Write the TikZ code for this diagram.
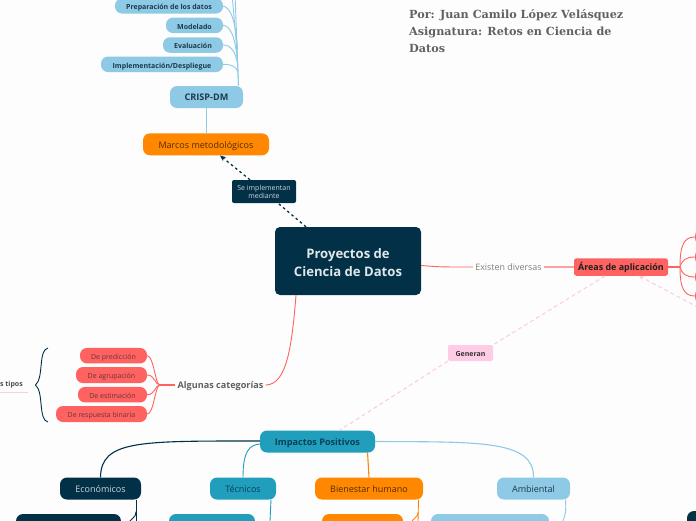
\documentclass[tikz,border=0pt]{standalone}
\usepackage{fontspec}
\setmainfont{Open Sans}
\newfontfamily\titlefont{DejaVu Serif}
\usepackage{xcolor}
\usetikzlibrary{arrows.meta,positioning}
\definecolor{navy}{HTML}{023047}
\definecolor{teal}{HTML}{219EBC}
\definecolor{sky}{HTML}{8ECAE6}
\definecolor{amber}{HTML}{FF8800}
\definecolor{coral}{HTML}{FF6361}
\definecolor{rose}{HTML}{FFCCE6}
\definecolor{paper}{HTML}{FDFDFD}
\tikzset{%
	topic/.style    = {rectangle, rounded corners=7pt, inner sep=0pt, align=center, text centered, text height=0.95em, text depth=0.2em},
	navybox/.style  = {topic, fill=navy, text=navy!20},
	tealbox/.style  = {topic, fill=teal, text=navy!85!teal},
	skybox/.style   = {topic, fill=sky, text=navy!75!black!90},
	amberbox/.style = {topic, fill=amber, text=black!68!amber},
	redbox/.style   = {topic, fill=coral, text=navy!30!coral!60!black},
	plainlabel/.style = {fill=paper, inner sep=2pt, text=black!62, text height=0.95em, text depth=0.2em},
	small/.style    = {font=\fontsize{7}{9}\selectfont},
	smallbold/.style = {font=\fontsize{7}{9}\selectfont\bfseries},
	midbold/.style  = {font=\fontsize{9.1}{11}\selectfont\bfseries},
	mid/.style      = {font=\fontsize{9}{11}\selectfont},
	link/.style     = {line width=0.9pt},
	pinkdash/.style = {rose, line width=1.1pt, dash pattern=on 4pt off 3pt},
	navydash/.style = {navy, line width=1.3pt, dash pattern=on 2.5pt off 3pt},
}
\begin{document}
\begin{tikzpicture}[x=1pt,y=-1pt]
	\useasboundingbox (0,0) rectangle (696,520);
	\clip (0,0) rectangle (696,520);
	\fill[paper] (0,0) rectangle (696,520);

	% free ends outside the page
	\coordinate (topa) at (232,-6);
	\coordinate (topb) at (235,-6);
	\coordinate (hubcat) at (160,385);
	\coordinate (hubarea) at (680,267);
	\coordinate (leavedash) at (705,311);
	\coordinate (leftline) at (-5,392);
	\coordinate (linee) at (28,392);
	\coordinate (econb) at (130,521);
	\coordinate (econc) at (136,521);
	\coordinate (tecnb) at (270,521);
	\coordinate (bienb) at (412,521);
	\coordinate (bienc) at (418,521);
	\coordinate (ambb) at (563,521);

	% top branch
	\node[skybox, smallbold, minimum width=108pt, minimum height=15pt] (prep) at (169,6) {Preparación de los datos};
	\node[skybox, smallbold, minimum width=57pt, minimum height=15.5pt] (model) at (194.5,25.3) {Modelado};
	\node[skybox, smallbold, minimum width=60pt, minimum height=15.5pt] (evalu) at (193,45) {Evaluación};
	\node[skybox, smallbold, minimum width=122pt, minimum height=15.5pt] (impl) at (162,64.3) {Implementación/Despliegue};
	\node[skybox, midbold, minimum width=73pt, minimum height=22pt] (crisp) at (206.5,97) {CRISP-DM};
	\node[amberbox, mid, minimum width=126pt, minimum height=22pt] (marcos) at (206,144.3) {Marcos metodológicos};
	\node[navybox, small, text height=, text depth=, rounded corners=2pt, minimum width=64pt, minimum height=23pt] (implem) at (264,191.5) {Se implementan\\[-1pt]mediante};

	% centre
	\node[navybox, text height=, text depth=, rounded corners=5pt, minimum width=146pt, minimum height=68pt, text=white!88!navy, font=\fontsize{13.1}{18}\selectfont\bfseries] (root) at (348,261) {\rule{0pt}{13.5pt}Proyectos de\\Ciencia de Datos};
	\node[plainlabel, text=black!50, font=\fontsize{8.9}{10}\selectfont] (existen) at (508.5,267) {Existen diversas};
	\node[redbox, rounded corners=2.5pt, minimum width=94pt, minimum height=17.5pt, text=black!88, font=\fontsize{8.9}{10}\selectfont\bfseries] (areas) at (621,267) {Áreas de aplicación};
	\node[topic, fill=rose, rounded corners=2pt, minimum width=45pt, minimum height=16pt, text=black!80, smallbold] (generan) at (470.5,353) {Generan};

	% slivers at the right edge
	\node[redbox, minimum width=16pt, minimum height=16pt] (areaa) at (703,237) {};
	\node[redbox, minimum width=16pt, minimum height=16pt] (areab) at (703,257) {};
	\node[redbox, minimum width=16pt, minimum height=16pt] (areac) at (703,277) {};
	\node[redbox, minimum width=16pt, minimum height=16pt] (aread) at (703,296) {};

	% categories
	\node[plainlabel, midbold] (cat) at (220.5,385) {Algunas categorías};
	\node[redbox, small, minimum width=67pt, minimum height=15.5pt] (pred) at (113.5,355.7) {De predicción};
	\node[redbox, small, minimum width=71pt, minimum height=16pt] (agru) at (111.5,375) {De agrupación};
	\node[redbox, small, minimum width=69pt, minimum height=15.5pt] (esti) at (112.5,394.7) {De estimación};
	\node[redbox, small, minimum width=91pt, minimum height=16pt] (resp) at (101.5,414) {De respuesta binaria};
	\node[text=black!70, inner sep=0pt, anchor=east, smallbold] (tipos) at (23,384.7) {s tipos};

	% impacts
	\node[tealbox, midbold, minimum width=115pt, minimum height=22pt] (imp) at (317.5,441.5) {Impactos Positivos};
	\node[navybox, mid, minimum width=81pt, minimum height=22pt] (econ) at (100.5,488.5) {Económicos};
	\node[tealbox, mid, minimum width=66pt, minimum height=22pt] (tecn) at (243,488.5) {Técnicos};
	\node[amberbox, mid, minimum width=108pt, minimum height=22pt] (bien) at (369,488.5) {Bienestar humano};
	\node[skybox, mid, minimum width=73pt, minimum height=22pt] (amb) at (533.5,488.5) {Ambiental};
	\node[navybox, minimum width=105pt, minimum height=22pt] (econa) at (68.5,525) {};
	\node[tealbox, minimum width=86pt, minimum height=22pt] (tecna) at (212,525) {};
	\node[amberbox, minimum width=81pt, minimum height=22pt] (biena) at (362.5,525) {};
	\node[skybox, minimum width=118pt, minimum height=22pt] (amba) at (490,525) {};
	\node[navybox, minimum width=30pt, minimum height=30pt] (corner) at (702,526) {};

	% top connectors
	\begin{scope}[sky, link]
		\draw ([xshift=32pt]crisp.north) -- (topb);
		\draw ([xshift=32pt]crisp.north) .. controls (237,50) .. (topa);
		\draw (prep.east) .. controls (232,8) and (236,25) .. (237.5,50);
		\draw (model.east) .. controls (231,26) and (235,38) .. (237.5,60);
		\draw (evalu.east) .. controls (231,45) and (236,52) .. (238,66);
		\draw (impl.east) .. controls (230,64) and (236,66) .. (238,72);
		\draw[line width=1.4pt] (marcos.north -| crisp.south) -- (crisp.south);
	\end{scope}
	\draw[navydash] ([xshift=42pt]root.north -| implem.south) -- ([xshift=14pt]implem.south);
	\draw[navydash, -{Stealth[length=6pt,width=5pt]}] ([xshift=-14pt]implem.north) -- ([xshift=14pt]marcos.south);

	% centre connectors
	\draw[coral, link] (root.east |- 0,265.5) .. controls (440,267) .. (existen.west);
	\draw[coral!60, line width=1.3pt] (existen.east) -- (areas.west);
	\draw[coral, line width=1.3pt] (areas.east) -- (hubarea);
	\draw[coral, link] (hubarea) .. controls (680,245) and (684,237) .. (areaa.west);
	\draw[coral, link] (hubarea) .. controls (682,260) and (686,257) .. (areab.west);
	\draw[coral, link] (hubarea) .. controls (682,274) and (686,277) .. (areac.west);
	\draw[coral, link] (hubarea) .. controls (680,288) and (684,296) .. (aread.west);
	\draw[pinkdash] ([xshift=-16pt]areas.south) -- (generan.north east);
	\draw[pinkdash] (generan.south west) -- ([xshift=22pt]imp.north);
	\draw[pinkdash, -{Stealth[length=5pt,width=5pt]}] (leavedash) -- ([xshift=18pt]areas.south);

	% category connectors
	\draw[coral, link] ([xshift=-52pt]root.south) .. controls (292,345) and (287,385) .. (cat.east);
	\draw[coral, line width=1.3pt] (cat.west) -- (hubcat);
	\draw[coral, link] (hubcat) .. controls (155,385) and (154,356) .. (pred.east);
	\draw[coral, link] (hubcat) .. controls (155,385) and (155,375) .. (agru.east);
	\draw[coral, link] (hubcat) .. controls (155,385) and (155,395) .. (esti.east);
	\draw[coral, link] (hubcat) .. controls (155,385) and (154,414) .. (resp.east);
	\draw[navy, link] (48,348) .. controls (38,350) and (44,378) .. (35.5,385) .. controls (44,392) and (38,420) .. (48,422);
	\draw[rose, line width=1pt] (leftline) -- (linee);

	% impact connectors
	\draw[navy, line width=1.1pt] (imp.west) ++(0,-0.5) .. controls (140,441) and (101,440) .. (econ.north);
	\draw[teal, link] (imp.west) ++(0,2.5) .. controls (250,445) and (243,450) .. (tecn.north);
	\draw[amber, line width=1.1pt] ([xshift=50pt]imp.south) .. controls (368,460) .. (bien.north);
	\draw[sky, line width=1.1pt] (imp.east) .. controls (480,442) and (534,440) .. (amb.north);
	\draw[navy, link] ([xshift=35.5pt]econ.south) -- (econc);
	\draw[navy, link] ([xshift=35.5pt,yshift=-12pt]econ.south) .. controls (136,515) .. (econb);
	\draw[teal, link] ([xshift=28pt]tecn.south) .. controls (271,510) .. (tecnb);
	\draw[amber, link] ([xshift=49.5pt]bien.south) -- (bienc);
	\draw[amber, link] ([xshift=49.5pt,yshift=-12pt]bien.south) .. controls (418,515) .. (bienb);
	\draw[sky, link] ([xshift=32pt]amb.south) .. controls (566,512) .. (ambb);

	% heading
	\node[anchor=north west, inner sep=0pt, align=left, text=black!62, font=\titlefont\fontsize{11.2}{16.7}\selectfont\bfseries] (title) at (409,9.5) {Por: Juan Camilo López Velásquez\\Asignatura: Retos en Ciencia de\\Datos};
\end{tikzpicture}
\end{document}
